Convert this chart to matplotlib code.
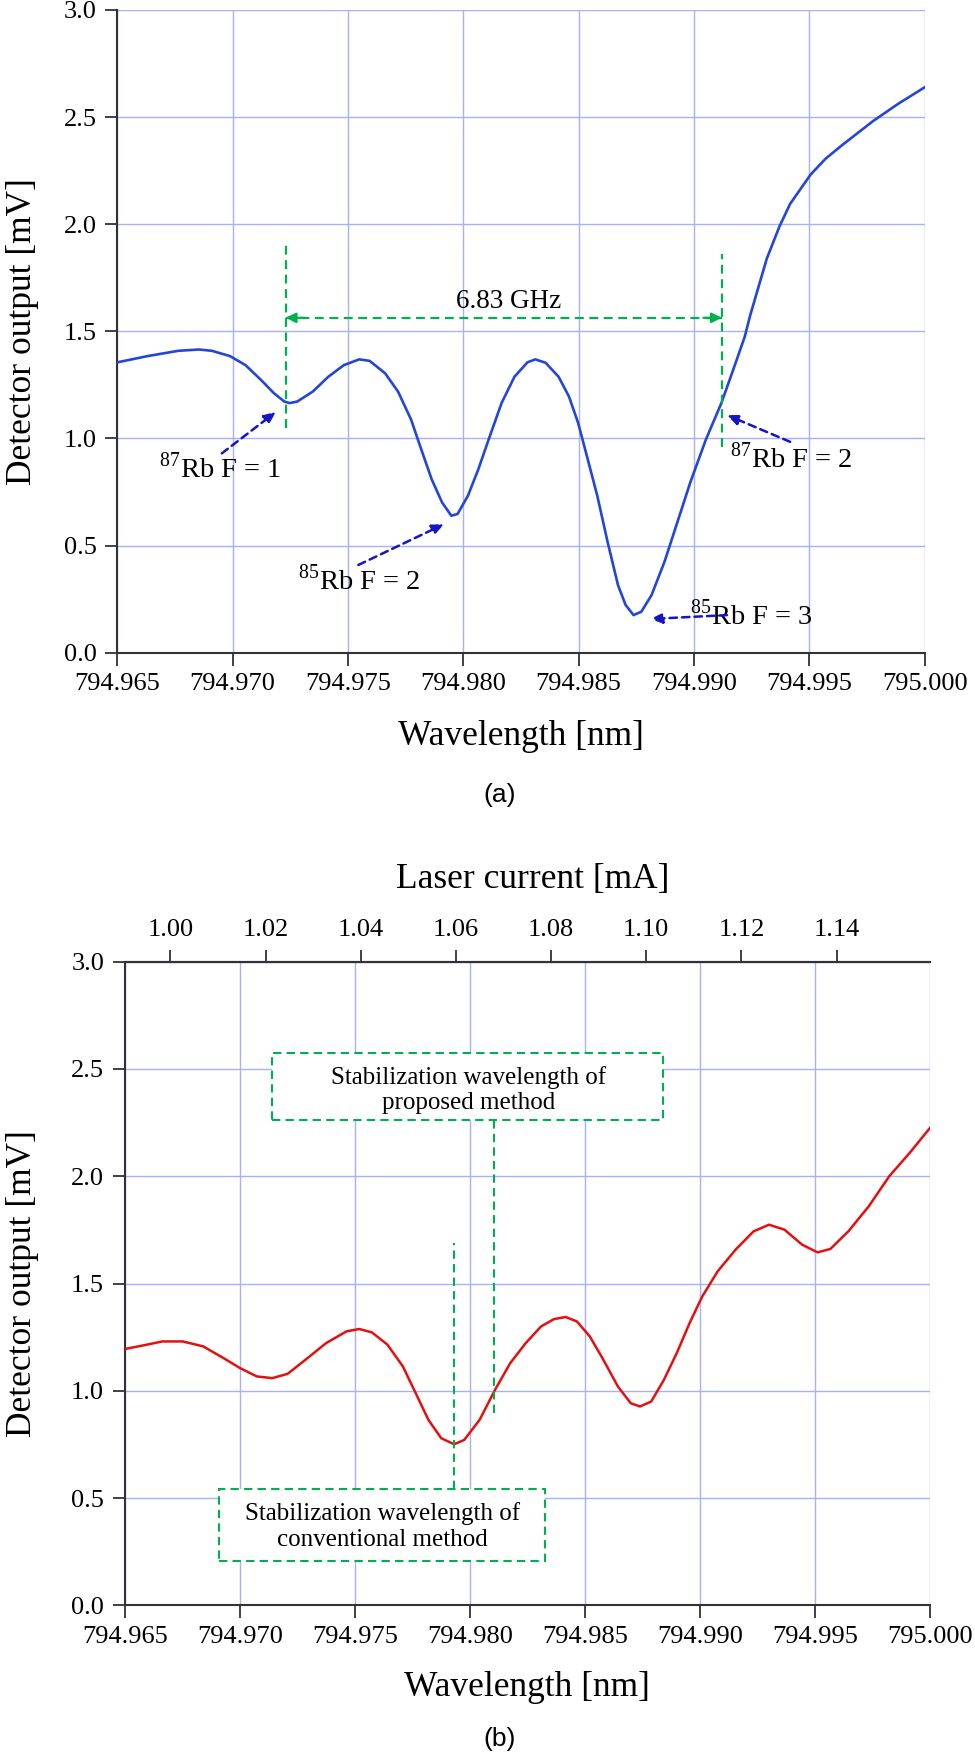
import matplotlib
matplotlib.use("Agg")
import matplotlib.pyplot as plt
from matplotlib.patches import Rectangle

plt.rcParams['font.family'] = ['Liberation Serif', 'DejaVu Serif']
plt.rcParams['mathtext.fontset'] = 'custom'
plt.rcParams['mathtext.rm'] = 'Liberation Serif'

# ---------------- data ----------------
wl_a = [794.9650, 794.9663, 794.96765, 794.96854, 794.9691, 794.96989, 794.97056,
        794.97123, 794.97179, 794.97224, 794.97247, 794.9728, 794.97348, 794.97415,
        794.97482, 794.97549, 794.97594, 794.97661, 794.97717, 794.97774, 794.97818,
        794.97863, 794.97908, 794.97948, 794.97975, 794.9802, 794.98065, 794.9811,
        794.98166, 794.98222, 794.98278, 794.98312, 794.98357, 794.98413, 794.98458,
        794.98498, 794.98536, 794.98581, 794.98626, 794.98671, 794.98704, 794.98738,
        794.98772, 794.98816, 794.98872, 794.98928, 794.98984, 794.99052, 794.99119,
        794.99175, 794.9922, 794.99244, 794.99316, 794.99371, 794.99417, 794.99506,
        794.99571, 794.99641, 794.99776, 794.99884, 795.0000]
det_a = [1.355, 1.384, 1.409, 1.415, 1.409, 1.384, 1.342,
         1.273, 1.211, 1.172, 1.165, 1.172, 1.219, 1.288,
         1.342, 1.369, 1.362, 1.304, 1.219, 1.087, 0.948,
         0.809, 0.701, 0.639, 0.647, 0.732, 0.855, 0.995,
         1.165, 1.288, 1.355, 1.369, 1.353, 1.288, 1.196,
         1.072, 0.917, 0.732, 0.515, 0.314, 0.222, 0.175,
         0.191, 0.268, 0.423, 0.608, 0.794, 0.995, 1.165,
         1.335, 1.474, 1.575, 1.840, 1.990, 2.095, 2.232,
         2.306, 2.368, 2.481, 2.561, 2.639]

wl_b = [794.96506, 794.96595, 794.96662, 794.96751, 794.9684, 794.96929, 794.9700,
        794.97073, 794.9714, 794.97207, 794.97285, 794.97374, 794.97463, 794.97519,
        794.97574, 794.97641, 794.97708, 794.97764, 794.97819, 794.97875, 794.97931,
        794.97975, 794.98042, 794.98109, 794.98175, 794.98242, 794.98309, 794.98365,
        794.98416, 794.98465, 794.98521, 794.98576, 794.98643, 794.98699, 794.98739,
        794.98788, 794.98843, 794.98899, 794.98955, 794.99010, 794.99077, 794.99155,
        794.99233, 794.9930, 794.99367, 794.99444, 794.99511, 794.99567, 794.99645,
        794.99734, 794.99823, 794.99912, 795.0000]
det_b = [1.196, 1.215, 1.230, 1.230, 1.207, 1.152, 1.106,
         1.067, 1.059, 1.079, 1.145, 1.222, 1.277, 1.288,
         1.272, 1.215, 1.114, 0.989, 0.865, 0.779, 0.751,
         0.771, 0.865, 1.005, 1.129, 1.222, 1.300, 1.334,
         1.344, 1.323, 1.253, 1.152, 1.020, 0.942, 0.927,
         0.950, 1.051, 1.176, 1.316, 1.440, 1.557, 1.658,
         1.743, 1.774, 1.751, 1.681, 1.645, 1.661, 1.743,
         1.860, 2.000, 2.109, 2.225]

wl_ticks = [794.965, 794.970, 794.975, 794.980, 794.985, 794.990, 794.995, 795.000]
wl_labels = ['794.965', '794.970', '794.975', '794.980', '794.985', '794.990', '794.995', '795.000']
det_ticks = [0.0, 0.5, 1.0, 1.5, 2.0, 2.5, 3.0]
det_labels = ['0.0', '0.5', '1.0', '1.5', '2.0', '2.5', '3.0']
cur_ticks = [1.00, 1.02, 1.04, 1.06, 1.08, 1.10, 1.12, 1.14]
cur_labels = ['1.00', '1.02', '1.04', '1.06', '1.08', '1.10', '1.12', '1.14']
cur_range = [0.99046, 1.15964]

# annotations panel (a): (label, text x, text y, arrow tail, arrow head)
rb_labels = [r'${}^{\mathrm{87}}$Rb F = 1', r'${}^{\mathrm{85}}$Rb F = 2',
             r'${}^{\mathrm{87}}$Rb F = 2', r'${}^{\mathrm{85}}$Rb F = 3']
rb_text_x = [794.96946, 794.97547, 794.99421, 794.99250]
rb_text_y = [0.861, 0.339, 0.907, 0.175]
rb_tail = [(794.96953, 0.930), (794.97545, 0.409), (794.99417, 0.984), (794.99143, 0.175)]
rb_head = [(794.97188, 1.124), (794.97917, 0.600), (794.99143, 1.109), (794.98811, 0.157)]
marker_wl_a = [794.9723, 794.99121]
marker_top_a = [1.910, 1.863]
marker_bot_a = [1.047, 0.961]
span_y_a = 1.563
span_label = '6.83 GHz'

conv_wl = 794.97929
prop_wl = 794.98105
conv_label = 'Stabilization wavelength of\nconventional method'
prop_label = 'Stabilization wavelength of\nproposed method'

# ---------------- style ----------------
GREEN = '#00b050'
GRID = '#aab0f5'
SPINE = '#333333'
TICK_FS = 19
LABEL_FS = 25.5

fig = plt.figure(figsize=(9.75, 17.55), dpi=100)
W, H = 975.0, 1755.0
ax1 = fig.add_axes([117.3 / W, 1 - 652.6 / H, (924.6 - 117.3) / W, 642.6 / H])
ax2 = fig.add_axes([125.0 / W, 1 - 1605.4 / H, (930.0 - 125.0) / W, 643.8 / H])


def style_axes(ax, top_spine):
    ax.set_xlim(wl_ticks[0], wl_ticks[-1])
    ax.set_ylim(det_ticks[0], det_ticks[-1])
    ax.set_xticks(wl_ticks)
    ax.set_xticklabels(wl_labels)
    ax.set_yticks(det_ticks)
    ax.set_yticklabels(det_labels)
    ax.grid(True, color=GRID, lw=1.0, ls='-')
    ax.set_axisbelow(True)
    for s in ['left', 'bottom']:
        ax.spines[s].set_color(SPINE)
        ax.spines[s].set_linewidth(1.5)
    ax.spines['right'].set_visible(False)
    if top_spine:
        ax.spines['top'].set_color(SPINE)
        ax.spines['top'].set_linewidth(1.5)
    else:
        ax.spines['top'].set_visible(False)
    ax.tick_params(axis='both', direction='out', length=9, width=1.3, color=SPINE,
                   labelsize=TICK_FS, pad=6)
    ax.set_xlabel('Wavelength [nm]', fontsize=LABEL_FS)
    ax.set_ylabel('Detector output [mV]', fontsize=LABEL_FS)
    ax.xaxis.label.set_va('center')
    ax.yaxis.label.set_va('center')


# ---------------- panel (a) ----------------
style_axes(ax1, top_spine=False)
ax1.plot(wl_a, det_a, color='#2346d8', lw=1.9, zorder=3, solid_joinstyle='round')
ax1.xaxis.set_label_coords(0.4996, -0.1313)
ax1.yaxis.set_label_coords(-0.118, 0.5)

for xw, yt, yb in zip(marker_wl_a, marker_top_a, marker_bot_a):
    ax1.plot([xw, xw], [yb, yt], color=GREEN, lw=1.6, ls=(0, (4, 2.5)), zorder=4)
ax1.plot(marker_wl_a, [span_y_a, span_y_a], color=GREEN, lw=1.6, ls=(0, (4, 2.5)), zorder=4)
ax1.annotate('', xy=(marker_wl_a[0], span_y_a), xytext=(marker_wl_a[0] + 0.0008, span_y_a),
             arrowprops=dict(arrowstyle='-|>,head_length=0.6,head_width=0.3', color=GREEN,
                             lw=1.6, shrinkA=0, shrinkB=0), zorder=4)
ax1.annotate('', xy=(marker_wl_a[1], span_y_a), xytext=(marker_wl_a[1] - 0.0008, span_y_a),
             arrowprops=dict(arrowstyle='-|>,head_length=0.6,head_width=0.3', color=GREEN,
                             lw=1.6, shrinkA=0, shrinkB=0), zorder=4)
ax1.text(sum(marker_wl_a) / 2 + 0.0002, span_y_a + 0.074, span_label, fontsize=19.5,
         ha='center', va='center', zorder=5)

for lab, tx, ty, tail, head in zip(rb_labels, rb_text_x, rb_text_y, rb_tail, rb_head):
    ax1.text(tx, ty, lab, fontsize=20.5, ha='center', va='center', zorder=5)
    ax1.annotate('', xy=head, xytext=tail,
                 arrowprops=dict(arrowstyle='-|>,head_length=0.7,head_width=0.3',
                                 color='#1515c8', lw=1.8, ls=(0, (3, 2)),
                                 shrinkA=0, shrinkB=0), zorder=5)

# ---------------- panel (b) ----------------
style_axes(ax2, top_spine=True)
ax2.plot(wl_b, det_b, color='#e41010', lw=1.8, zorder=3, solid_joinstyle='round')
ax2.xaxis.set_label_coords(0.4996, -0.1283)
ax2.yaxis.set_label_coords(-0.127, 0.5)

axt = ax2.twiny()
axt.set_xlim(cur_range)
axt.set_xticks(cur_ticks)
axt.set_xticklabels(cur_labels)
axt.tick_params(axis='x', direction='out', length=9, width=1.3, color=SPINE,
                labelsize=TICK_FS, pad=6)
for s in ['left', 'right', 'bottom']:
    axt.spines[s].set_visible(False)
axt.spines['top'].set_color(SPINE)
axt.spines['top'].set_linewidth(1.5)
axt.set_xlabel('Laser current [mA]', fontsize=LABEL_FS)
axt.xaxis.label.set_va('center')
axt.xaxis.set_label_coords(0.506, 1.1275)

# conventional method marker + box
ax2.plot([conv_wl, conv_wl], [0.542, 1.687], color=GREEN, lw=1.5, ls=(0, (4, 2.5)), zorder=4)
ax2.add_patch(Rectangle((794.96910, 0.209), 794.98328 - 794.96910, 0.542 - 0.209,
                        facecolor='white', edgecolor=GREEN, lw=1.5, ls=(0, (4, 2.5)), zorder=5))
ax2.text(794.97619, 0.3685, conv_label, fontsize=18, ha='center', va='center',
         linespacing=1.2, zorder=6)

# proposed method marker + box
ax2.plot([prop_wl, prop_wl], [0.895, 2.264], color=GREEN, lw=1.5, ls=(0, (4, 2.5)), zorder=4)
ax2.add_patch(Rectangle((794.97141, 2.264), 794.98841 - 794.97141, 2.576 - 2.264,
                        facecolor='white', edgecolor=GREEN, lw=1.5, ls=(0, (4, 2.5)), zorder=5))
ax2.text(794.97993, 2.4005, prop_label, fontsize=18, ha='center', va='center',
         linespacing=1.2, zorder=6)

# panel labels
fig.text(500 / W, 1 - 795 / H, '(a)', fontsize=19, family='Liberation Sans', ha='center', va='center')
fig.text(500 / W, 1 - 1739 / H, '(b)', fontsize=19, family='Liberation Sans', ha='center', va='center')

fig.savefig('out.png', dpi=100)
